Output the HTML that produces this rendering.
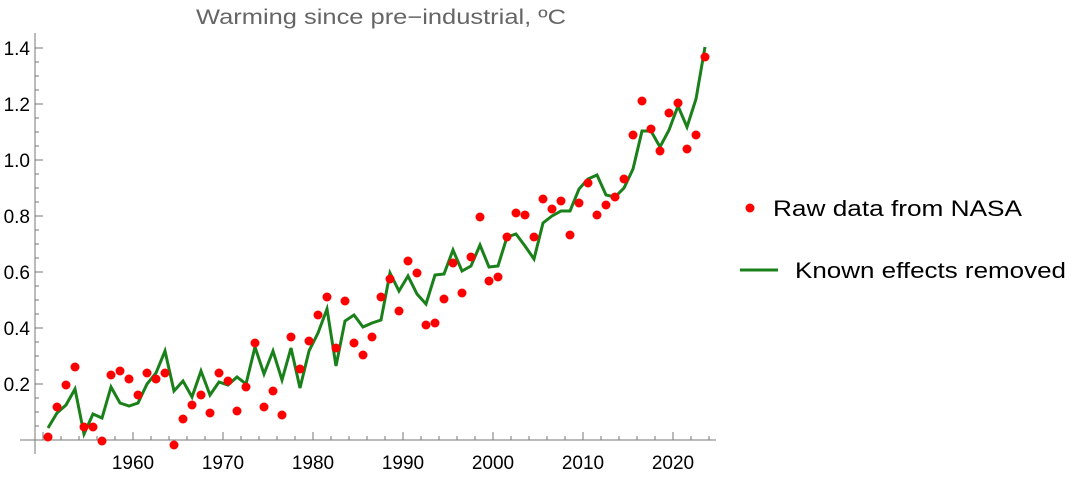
<!DOCTYPE html>
<html><head><meta charset="utf-8"><style>body{margin:0;background:#fff}</style></head><body>
<svg width="1078" height="478" xmlns="http://www.w3.org/2000/svg" font-family="Liberation Sans, sans-serif">
<rect width="1078" height="478" fill="#fff"/>
<text x="196" y="24" font-size="21" fill="#666" textLength="370" lengthAdjust="spacingAndGlyphs">Warming since pre−industrial, ºC</text>
<g stroke="#777" stroke-width="1">
<line x1="35" y1="33" x2="35" y2="454"/>
<line x1="20" y1="440" x2="716" y2="440"/>
</g>
<g id="yt" stroke="#777"></g>
<g id="xt" stroke="#777"></g>
<g id="yl" font-size="19" text-anchor="end" fill="#000"></g>
<g id="xl" font-size="19" text-anchor="middle" fill="#000"></g>
<polyline id="gl" fill="none" stroke="#1a801a" stroke-width="3" stroke-linejoin="miter"/>
<g id="dots" fill="#f00"></g>
<circle cx="750" cy="208" r="4.5" fill="#f00"/>
<text x="773" y="216" font-size="22" textLength="249" lengthAdjust="spacingAndGlyphs">Raw data from NASA</text>
<line x1="740" y1="270" x2="778" y2="270" stroke="#1a801a" stroke-width="3"/>
<text x="795" y="278" font-size="22" textLength="271" lengthAdjust="spacingAndGlyphs">Known effects removed</text>
<script>
var ns="http://www.w3.org/2000/svg";
function el(p,t,a,txt){var e=document.createElementNS(ns,t);for(var k in a)e.setAttribute(k,a[k]);if(txt)e.textContent=txt;document.getElementById(p).appendChild(e);}
for(var v=0;v<=1.45;v+=0.05){var y=440-280*v;var maj=Math.abs(v/0.2-Math.round(v/0.2))<1e-6;el("yt","line",{x1:35,x2:35+(maj?8:4),y1:y,y2:y});
if(maj&&v>0.1)el("yl","text",{x:30,y:y+7},(Math.round(v*10)/10).toFixed(1));}
for(var yr=1950;yr<=2024;yr+=2){var x=133+9*(yr-1960);var maj=yr%10==0;el("xt","line",{x1:x,x2:x,y1:440,y2:440-(maj?8:4)});
if(maj&&yr>=1960)el("xl","text",{x:x,y:469},yr);}
var r=[437,407,385,367,427,427,441,375,371,379,395,373,379,373,445,419,405,395,413,373,381,411,387,343,407,391,415,337,369,341,315,297,348,301,343,355,337,297,279,311,261,273,325,323,299,263,293,257,217,281,277,237,213,215,237,199,209,201,235,203,183,215,205,197,179,135,101,129,151,113,103,149,135,57];
var g=[428,413,405,389,434,414,418,387,403,406,403,384,373,351,391,381,397,371,395,382,385,377,384,347,374,351,380,348,388,351,333,309,366,321,315,327,323,320,273,291,276,294,304,275,274,250,271,266,245,267,266,237,234,246,259,223,216,211,211,189,179,175,195,197,188,169,131,131,147,130,106,127,99,47];
var pts=[];for(var i=0;i<74;i++){var x=48+9*i;el("dots","circle",{cx:x,cy:r[i],r:4.5});pts.push(x+","+g[i]);}
document.getElementById("gl").setAttribute("points",pts.join(" "));
</script>
</svg>
</body></html>
